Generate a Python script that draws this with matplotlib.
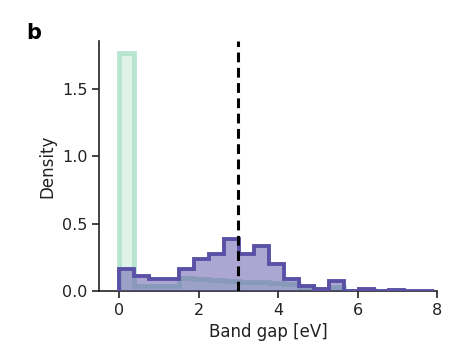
import numpy as np
import matplotlib
matplotlib.use("Agg")
import matplotlib.pyplot as plt

# Data (bin edges in eV, densities)
bin_width = 0.377
n_bins = 21
bin_edges = [round(i * bin_width, 3) for i in range(n_bins + 1)]

density_purple = [0.165, 0.110, 0.092, 0.092, 0.165, 0.238, 0.278, 0.388, 0.278, 0.332,
                  0.203, 0.092, 0.034, 0.018, 0.072, 0.004, 0.014, 0.002, 0.011, 0.002, 0.002]
density_green = [1.77, 0.035, 0.035, 0.04, 0.095, 0.09, 0.085, 0.075, 0.07, 0.065,
                 0.06, 0.05, 0.02, 0.01, 0.03, 0.003, 0.005, 0.001, 0.004, 0.001, 0.001]
threshold = 3.0

xticks = [0, 2, 4, 6, 8]
yticks = [0.0, 0.5, 1.0, 1.5]

green_edge = (0.70, 0.89, 0.80, 0.9)
purple_edge = "#5a51a6"

fig = plt.figure(figsize=(4.74, 3.58), dpi=100)
ax = fig.add_axes([0.2095, 0.187, 0.922 - 0.2095, 0.886 - 0.187])

ax.stairs(density_green, bin_edges, fill=True, facecolor=(0.70, 0.89, 0.80, 0.42),
          edgecolor=green_edge, linewidth=3.5, baseline=0, zorder=2)
ax.stairs(density_purple, bin_edges, fill=True, facecolor=(0.353, 0.318, 0.651, 0.5),
          edgecolor=purple_edge, linewidth=2.8, baseline=0, zorder=3)

ax.axvline(threshold, color="black", linestyle=(0, (3.2, 1.8)), linewidth=2.2, zorder=4)

ax.set_xlim(-0.5, 8)
ax.set_ylim(0, max(density_green) * 1.05)
ax.set_xticks(xticks)
ax.set_xticklabels([str(t) for t in xticks])
ax.set_yticks(yticks)
ax.set_yticklabels([f"{t:.1f}" for t in yticks])

for s in ["top", "right"]:
    ax.spines[s].set_visible(False)
for s in ["left", "bottom"]:
    ax.spines[s].set_linewidth(1.2)
    ax.spines[s].set_color("#222222")

ax.tick_params(axis="both", labelsize=11.5, length=5, width=1.2, colors="#222222")
ax.set_xlabel("Band gap [eV]", fontsize=12, color="#222222")
ax.set_ylabel("Density", fontsize=12, color="#222222")

fig.text(0.055, 0.892, "b", fontsize=15, fontweight="bold", color="black")

fig.savefig("out.png", dpi=100)
